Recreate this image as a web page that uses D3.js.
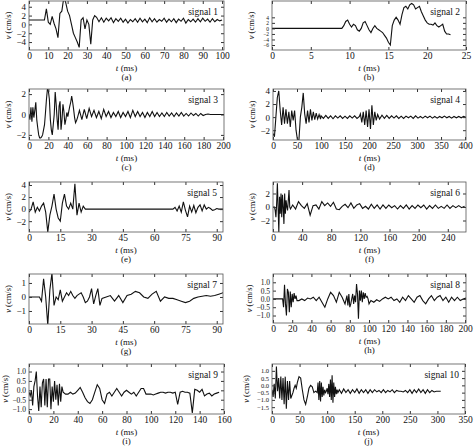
<!DOCTYPE html>
<html>
<head>
<meta charset="utf-8">
<script src="https://cdn.jsdelivr.net/npm/d3@7"></script>
<style>
  body { margin: 0; background: #fff; }
  svg text { font-family: "Liberation Serif", "DejaVu Serif", serif; fill: #111; }
</style>
</head>
<body>
<svg id="chart" width="474" height="447"></svg>
<script>
// each signal: list of segments [t0, dt, values]
const signal1 = [
  [0, 8, [1, 1]],
  [9, 1, [3.5, 0.5, 0, 1.8, 0.2, -1, -3, 2.5, 3, 6, 5, 3, 2, 0, -2, -3, -4, -5.2, 1, 1.5, -1, 1, 0, -4.5, 1, 2]],
  [35, 1.25, [1.6, 0.6, 1.5, 0.5, 1.4, 0.8, 1.5, 0.4, 1.3, 0.7, 1.4, 0.5, 1.2, 0.3, 1.1, 0.6, 1.3, 0.5, 1.4, 0.6, 1.2, 0.4, 1.5, 0.6, 1.3, 0.5, 1.1, 0.7, 1.4, 0.5, 1.2, 0.6, 1.3, 0.4, 1.2, 0.7, 1.4, 0.3, 1.1, 0.6, 1.2, 0.5, 1.3, 0.6, 1.4, 0.7, 1.2, 0.5, 1.3, 0.6, 1.1, 0.8, 1.0]]
];
const signal2 = [
  [0, 9, [0, 0]],
  [9.25, 0.25, [1, 2.5, 3, 1.5, 0.5, 1.5, 1, -0.5, -1, 0, 2, 2.5, 1, -0.5, -1.5, 0, 1, 0, -0.5, -1, -1.5, -2.5, -3.5, -5, -6, 1, 3, 4, 3, 1.5, 5, 7.5, 8, 7, 8.5, 9, 8.5, 7, 7.5, 8, 6, 4.5, 3, 2, 1.5, 1.5, 1.2, 2, 1, 0.5, 1, 1.5, -1, -2, -2, -2.3]]
];
const signal3 = [
  [0, 1, [0, -0.5, 0.7, -0.7, 0.7, -0.3, 0.4, 1.2, -0.5, -1.3, -2, -2.3, -2.3, -2.2, -2, -1.5, -1, 0.2, 1.5, 2.5, 2.3, 1.5, -0.5, -1.5, -2, -1, 0, 2.2, 1, -0.5, -1.5, 0.8, 1.3, -1.5, -0.5, 1, 0.3, -1, -0.5, 0.2, -0.2, 0.3, 0.8, 1.2, 1.8, 1.2, 0.5, -0.3, -0.8, -0.6, -0.3]],
  [52, 2.5, [0.4, -0.5, 0.5, -0.4, 0.6, -0.2, 0.4, -0.3, 0.3, -0.4, 0.5, -0.2, 0.3, -0.3, 0.2, -0.2, 0.3, -0.3, 0.2, -0.2, 0.3, -0.3, 0.4, -0.2, 0.3, -0.2, 0.2, -0.3, 0.2, -0.2, 0.3, -0.2, 0.2, -0.2, 0.15, -0.2, 0.2, -0.15, 0.15, -0.2, 0.15, -0.15, 0.2, -0.15, 0.1, -0.15, 0.15, -0.1, 0.1, -0.15, 0.1, -0.1]],
  [182, 2.5, [0, 0.05, 0, 0, 0, 0, 0, 0, 0]]
];
const signal4 = [
  [0, 3, [-2.5, -3, 0, 3, 4, 1, -1.2, 1.5, -1, 1.2, -1, 0.8, -1.5, 1, -0.5, 1, -2, -3.5, -3.5, 0, 1.5, 3.7, 0.5, -1, 1, -0.8, 1.2, -0.5, 0.8, -0.4, 0.6, -0.3, 0.4, -0.3]],
  [100, 5, [0.2, -0.2, 0.25, -0.2, 0.2, -0.25, 0.2, -0.15, 0.2, -0.2, 0.15, -0.2, 0.2, -0.15, 0.2, -0.2, 0.1]],
  [182, 3, [0.5, -0.8, 0.8, -1.2, 1, -1.5, 1.2, -1.8, 1.8, -1.2, 0.8, -0.5, 0.4]],
  [222, 5, [-0.3, 0.3, -0.2, 0.25, -0.2, 0.2, -0.15, 0.2, -0.2, 0.15, -0.2, 0.15, -0.1, 0.15, -0.2, 0.2, -0.15, 0.1, -0.15, 0.15, -0.1, 0.15, -0.15, 0.1, -0.15, 0.1, -0.1, 0.15, -0.1, 0.1, -0.15, 0.1, -0.1, 0.1, -0.1, 0.1, -0.05]]
];
const signal5 = [
  [0, 1, [-0.5, 0, 1.2, -0.5, 0.3, -0.3, 0.5, 1, -0.5, -3.8, -1, 0.5, 2.5, 0, -1.5, -2, 1, 2.5, 0.5, 0, 1, 0, 4.2, -1, 1, -0.5, 0.5, 0]],
  [68, 1, [0, 0, 0.3, -0.3, 0.5, -0.5, 1.2, -0.2, -1.3, 0.5, -0.5, 0.6, -0.6, 0.3, 0.7, -0.3, 0.7, 0, 0.3, 0.1, -0.2, -0.1, 0.1, 0, 0, 0]]
];
const signal6 = [
  [0, 1, [0, 0, 0, -0.5, -1.5, 0.5, 3.5, 0, -3.7, 1.5, -1, 2, -1.5, 1.8, 0, -2.5, 2, -1, 1, 0, -0.5, 1, 2.5, 0, -0.3]],
  [27, 4, [0.3, -0.3, 0.8, 0.2, -0.2, 0.5, -1.2, 0.2, 0.3, -0.3, 0.8, 0.2, 0.6, 0.1, 0.7, -0.3, -0.4, 0.1, 0.4, -0.1, 0.6, -0.2, 0.3, 0.5, -0.2, 0.1, -0.3, 0.4, -0.2, 0.3, -0.3, 0.3, -0.2, 0.3, -0.1, 0.2, -0.3, 0.2, -0.2, 0.3, -0.3, 0.2, -0.2, 0.3, -0.1, 0.3, -0.3, 0.2, -0.2, 0.3, -0.2, 0.1, -0.2, 0.3, -0.2, 0.2, -0.1, 0.2, -0.1, 0.1]]
];
const signal7 = [
  [0, 1, [0, 0, 0, 0, 0, 0, -0.3, 1.3, 0, -2, 0.5, 1.7, -0.6, 0, -0.2, 0.5, -0.3, 0, 0.3, 0.1, 0.4, 0.1, -0.1, 0.1, 0.2, 0.3, 0, -0.4, -0.3, 0, 0.6, -0.5, 0.1, 0.6, -0.6]],
  [35, 2, [-0.1, 0, 0.1, -0.3, 0.1, -0.4, 0.1, 0.2, 0.4, 0.3, 0, -0.1, 0.2, 0.4, -0.3, 0, -0.1, -0.1, -0.2, -0.3, -0.4, -0.3, -0.1, 0, 0.05, 0.1, 0.05, 0.1, 0.2, 0.3, 0.2, 0.1, -0.3, -0.3, -0.3, -0.2, 0.2, 0, 0.1]]
];
const signal8 = [
  [0, 10, [0, 0]],
  [11, 1, [-0.5, 0.85, -0.3, -1, 0.6, 0.4, -0.8, 0.45, -0.5, 0.3, -0.2, 0.35, 0, 0.2, -0.1]],
  [27, 3, [-0.1, 0, -0.1, 0.05, 0, 0.1, -0.1, 0.1, -0.2, -0.5, 0, 0.4, 0.2, -0.2, 0.4, 0.1, -0.3]],
  [77, 1, [0.2, -0.4, 0.3, -0.5, -0.3, 0, 0.3, -0.3, 0.2, -0.2, 0.9, 0.3, -1.2, 0.5, -0.1, 0.5, -0.2, 0.4, 0, 0.35, 0.1, 0.15, 0, -0.3]],
  [102, 3, [-0.1, -0.2, -0.05, -0.15, 0, 0.1, 0, 0.1, -0.1, 0, -0.2, 0.1, -0.1, 0.2, 0, -0.2, 0.1, 0.2, -0.1, -0.3, 0, 0.2, -0.1, 0.1, 0.2, -0.1, 0.1, -0.2, 0.1, -0.1, 0.1, -0.1, 0, 0.05]]
];
const signal9 = [
  [0, 1, [-0.1, -0.3, 0, -0.8, 0.2, 0.5, 1.0, -0.3, -1.1, 0.2, -0.9, 0.4, 0.6, -0.8, 0.6, -0.9, 0.6, 0.6, -1.0, 0.2, -0.6, 0.5, -0.5, 0.3, -0.8, 0.35, -0.6, 0.2, -0.1]],
  [30, 2, [-0.2, -0.2, -0.1, -0.2, -0.15, 0, 0.15, -0.1, -0.4, -0.6, -0.7, -0.5, -0.1, 0.3, 0.1, -0.5, -0.7, -0.2, -0.1, -0.3, -0.1, 0.1, -0.1, -0.3, -0.1, 0, -0.1, -0.2, -0.1, -0.3, -0.1, 0.1, 0.1, -0.2, -0.2, -0.2, -0.25, -0.2, -0.15, -0.1, -0.1, -0.15, -0.1, -0.1, -0.15, -0.1, -0.75, -0.1, -0.05, -0.1, -0.1, -0.15, -1.2, 0.05, 0, -0.1, 0.05, -0.3, -0.2, -0.15, -0.3, -0.2, -0.15, -0.1]]
];
const signal10 = [
  [0, 2, [-0.3, -0.8, 0.1, -0.9, 1.3, -0.4, 0.5, -0.9, 0.6, -1.0, 0.5, -1.3, 0.6, -1.6, 0.3, -1.0, 0.3, -0.9, -0.7, -0.5, -0.2, 0.0, -0.2]],
  [46, 3, [0.2, 0.6, 0.5, -0.3, -1.0, -1.3, -0.8, -0.2, 0.0, -0.1, -0.5, -0.4]],
  [82, 1.5, [-0.5, 0.2, -1.0, 0.3, -1.1, 0.2, -0.8, -0.1, -0.7, -0.3, -0.5, -0.4, -0.2, -0.6, 0.1, -0.8, 0.4, -1.0, 0.7, -1.2, 0.2, -0.8, -0.1, -0.6, -0.3, -0.5]],
  [122, 4, [-0.3, -0.55, -0.25, -0.5, -0.3, -0.55, -0.3, -0.5, -0.25, -0.55, -0.3, -0.5, -0.3, -0.55, -0.3, -0.5, -0.3, -0.45, -0.35, -0.5, -0.3, -0.5, -0.35, -0.45, -0.3, -0.5, -0.35, -0.4, -0.4, -0.45, -0.35, -0.5, -0.3, -0.55, -0.3, -0.5, -0.25, -0.5, -0.3, -0.55, -0.3, -0.5, -0.35, -0.45, -0.4, -0.4, -0.4]]
];

const signals = [signal1, signal2, signal3, signal4, signal5, signal6, signal7, signal8, signal9, signal10];
const panelLetters = ["a", "b", "c", "d", "e", "f", "g", "h", "i", "j"];
const xTicks = [
  [0, 10, 20, 30, 40, 50, 60, 70, 80, 90, 100],
  [0, 5, 10, 15, 20, 25],
  [0, 20, 40, 60, 80, 100, 120, 140, 160, 180, 200],
  [0, 50, 100, 150, 200, 250, 300, 350, 400],
  [0, 15, 30, 45, 60, 75, 90],
  [0, 40, 80, 120, 160, 200, 240],
  [0, 15, 30, 45, 60, 75, 90],
  [0, 20, 40, 60, 80, 100, 120, 140, 160, 180, 200],
  [0, 20, 40, 60, 80, 100, 120, 140, 160],
  [0, 50, 100, 150, 200, 250, 300, 350]
];
const yTicks = [
  [-4, -2, 0, 2, 4],
  [-6, -4, -2, 0, 2, 4],
  [-2, 0, 2],
  [-2, 0, 2, 4],
  [-2, 0, 2, 4],
  [-2, 0, 2],
  [-1, 0, 1],
  [-1, -0.5, 0, 0.5, 1],
  [-1, -0.5, 0, 0.5, 1],
  [-1.5, -1, -0.5, 0, 0.5, 1]
];
const xMax = [101, 25, 201, 402, 93, 265, 93, 201, 160, 350];
const yDomains = [[-5.8, 5.3], [-7.8, 9.9], [-2.5, 2.5], [-3.5, 4.3], [-3.8, 4.5],
                  [-3.7, 3.7], [-1.93, 1.64], [-1.45, 1.5], [-1.26, 1.4], [-1.97, 1.47]];

// frame boxes [left, right, top, bottom]
const boxes = [
  [29, 224, 1, 50], [272, 466, 1, 50],
  [29, 224, 89, 140], [273, 466, 89, 140],
  [29, 223, 182, 232], [273, 466, 182, 232],
  [29, 223, 274, 324], [273, 466, 274, 323],
  [29, 224, 364, 414], [272, 465, 364, 414]
];
const yTickFont = [9, 5.5, 9, 9, 9, 9, 9, 7.5, 7.5, 6.5];
const yLabelGap = [18, 18, 18, 18, 18, 18, 18, 21, 21, 23];

const svg = d3.select("#chart");

signals.forEach((segs, i) => {
  const [l, r, t, b] = boxes[i];
  const x = d3.scaleLinear().domain([0, xMax[i]]).range([l, r]);
  const y = d3.scaleLinear().domain(yDomains[i]).range([b, t]);
  const pts = [];
  segs.forEach(([t0, dt, vals]) => vals.forEach((v, k) => pts.push([t0 + k * dt, v])));

  const g = svg.append("g");
  const clipId = "clip" + i;
  g.append("clipPath").attr("id", clipId).append("rect")
    .attr("x", l).attr("y", t).attr("width", r - l).attr("height", b - t);

  g.append("path").datum(pts)
    .attr("clip-path", `url(#${clipId})`)
    .attr("fill", "none").attr("stroke", "#111").attr("stroke-width", 1.1)
    .attr("d", d3.line().x(d => x(d[0])).y(d => y(d[1])));

  const fmt = i >= 7 ? d3.format(".1f") : d3.format("d");
  g.append("g").attr("class", "xa").attr("transform", `translate(0,${b})`)
    .call(d3.axisBottom(x).tickValues(xTicks[i]).tickSize(-3).tickPadding(2).tickFormat(d3.format("d")))
    .call(s => s.select(".domain").remove());
  g.append("g").attr("transform", `translate(0,${t})`)
    .call(d3.axisTop(x).tickValues(xTicks[i]).tickSize(-3).tickFormat(""))
    .call(s => s.select(".domain").remove());
  g.append("g").attr("class", "ya").attr("transform", `translate(${l},0)`)
    .call(d3.axisLeft(y).tickValues(yTicks[i]).tickSize(-3).tickPadding(3).tickFormat(fmt))
    .call(s => s.select(".domain").remove());
  g.append("g").attr("transform", `translate(${r},0)`)
    .call(d3.axisRight(y).tickValues(yTicks[i]).tickSize(-3).tickFormat(""))
    .call(s => s.select(".domain").remove());
  g.selectAll(".xa .tick text").attr("font-size", 9.5).attr("font-family", "Liberation Serif");
  g.selectAll(".ya .tick text").attr("font-size", yTickFont[i]).attr("font-family", "Liberation Serif");
  g.selectAll(".tick line").attr("stroke", "#333");

  g.append("rect").attr("x", l).attr("y", t).attr("width", r - l).attr("height", b - t)
    .attr("fill", "none").attr("stroke", "#555").attr("stroke-width", 0.8);

  g.append("text").attr("x", r - 6).attr("y", t + 14).attr("text-anchor", "end")
    .attr("font-size", 9.5).text("signal " + (i + 1));

  const cx = (l + r) / 2;
  const xl = g.append("text").attr("x", cx).attr("y", b + 21).attr("text-anchor", "middle").attr("font-size", 9);
  xl.append("tspan").attr("font-style", "italic").text("t");
  xl.append("tspan").text(" (ms)");
  g.append("text").attr("x", cx).attr("y", b + 30).attr("text-anchor", "middle")
    .attr("font-size", 9).text("(" + panelLetters[i] + ")");

  const yl = g.append("text").attr("transform", `translate(${l - yLabelGap[i]},${(t + b) / 2}) rotate(-90)`)
    .attr("text-anchor", "middle").attr("font-size", 8.5);
  yl.append("tspan").attr("font-style", "italic").text("v");
  yl.append("tspan").text(" (cm/s)");
});
</script>
</body>
</html>
